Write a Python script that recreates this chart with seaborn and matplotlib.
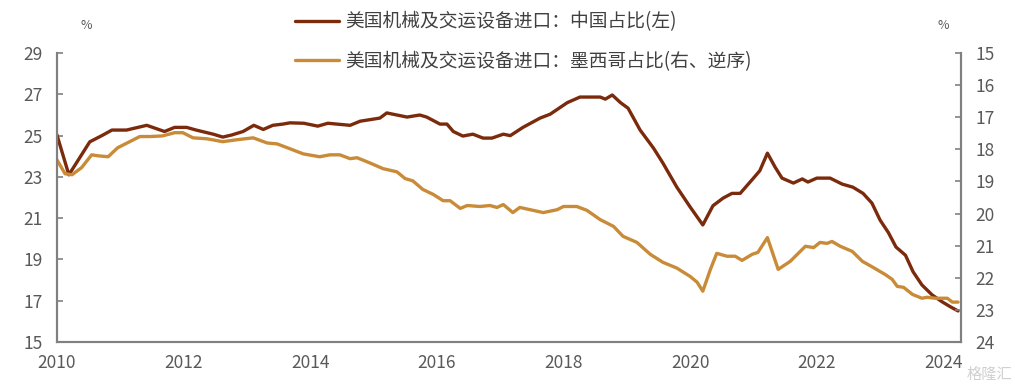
import matplotlib
matplotlib.use('Agg')
import matplotlib.pyplot as plt
import seaborn as sns
import pandas as pd
import numpy as np

# US machinery & transport equipment imports: share from China (left) and Mexico (right, inverted)
china_year = [2010.00, 2010.19, 2010.52, 2010.71, 2010.87, 2011.10, 2011.42, 2011.70, 2011.86,
              2012.05, 2012.20, 2012.47, 2012.62, 2012.76, 2012.94, 2013.11, 2013.26, 2013.41,
              2013.57, 2013.68, 2013.90, 2014.12, 2014.28, 2014.63, 2014.79, 2015.10, 2015.21,
              2015.53, 2015.73, 2015.84, 2016.05, 2016.16, 2016.26, 2016.41, 2016.57, 2016.73,
              2016.87, 2017.05, 2017.16, 2017.36, 2017.63, 2017.79, 2018.06, 2018.26, 2018.58,
              2018.66, 2018.77, 2018.90, 2019.02, 2019.21, 2019.42, 2019.57, 2019.79, 2020.00,
              2020.20, 2020.36, 2020.52, 2020.66, 2020.79, 2021.00, 2021.10, 2021.22, 2021.34,
              2021.45, 2021.63, 2021.77, 2021.86, 2022.00, 2022.21, 2022.40, 2022.57, 2022.73,
              2022.87, 2023.00, 2023.13, 2023.25, 2023.40, 2023.52, 2023.66, 2023.82, 2023.98,
              2024.11, 2024.23]
china_share = [25.05, 23.1, 24.7, 25.0, 25.27, 25.27, 25.5, 25.2, 25.4,
               25.4, 25.27, 25.07, 24.93, 25.03, 25.2, 25.5, 25.3, 25.5,
               25.56, 25.62, 25.6, 25.46, 25.6, 25.5, 25.7, 25.85, 26.1,
               25.9, 26.0, 25.9, 25.56, 25.56, 25.2, 24.98, 25.07, 24.88,
               24.88, 25.07, 25.0, 25.4, 25.85, 26.04, 26.6, 26.87, 26.87,
               26.77, 26.97, 26.6, 26.33, 25.27, 24.4, 23.67, 22.5, 21.54,
               20.67, 21.6, 21.97, 22.2, 22.2, 22.94, 23.3, 24.15, 23.48,
               22.94, 22.7, 22.9, 22.75, 22.94, 22.94, 22.65, 22.5, 22.2,
               21.73, 20.9, 20.3, 19.6, 19.2, 18.4, 17.76, 17.28, 16.94,
               16.7, 16.5]

mexico_year = [2010.00, 2010.13, 2010.24, 2010.39, 2010.55, 2010.65, 2010.81, 2010.96, 2011.15,
               2011.31, 2011.47, 2011.67, 2011.86, 2011.99, 2012.15, 2012.37, 2012.62, 2012.84,
               2013.10, 2013.32, 2013.48, 2013.68, 2013.89, 2014.15, 2014.31, 2014.47, 2014.63,
               2014.74, 2014.94, 2015.15, 2015.37, 2015.50, 2015.62, 2015.78, 2015.94, 2016.10,
               2016.21, 2016.37, 2016.48, 2016.68, 2016.84, 2016.95, 2017.05, 2017.20, 2017.31,
               2017.52, 2017.68, 2017.90, 2018.00, 2018.21, 2018.37, 2018.58, 2018.79, 2018.94,
               2019.16, 2019.37, 2019.57, 2019.79, 2020.00, 2020.11, 2020.20, 2020.32, 2020.42,
               2020.58, 2020.71, 2020.82, 2020.98, 2021.07, 2021.22, 2021.39, 2021.58, 2021.82,
               2021.95, 2022.05, 2022.16, 2022.24, 2022.37, 2022.56, 2022.72, 2022.89, 2023.08,
               2023.19, 2023.27, 2023.37, 2023.51, 2023.66, 2023.74, 2023.87, 2024.06, 2024.14,
               2024.23]
mexico_share = [18.32, 18.76, 18.79, 18.57, 18.17, 18.2, 18.23, 17.95, 17.76,
                17.6, 17.6, 17.58, 17.48, 17.48, 17.64, 17.67, 17.76, 17.7,
                17.64, 17.8, 17.83, 17.98, 18.14, 18.23, 18.17, 18.17, 18.29,
                18.26, 18.42, 18.6, 18.7, 18.91, 18.98, 19.25, 19.4, 19.6,
                19.6, 19.84, 19.75, 19.78, 19.75, 19.81, 19.72, 19.97, 19.81,
                19.9, 19.97, 19.88, 19.78, 19.78, 19.9, 20.19, 20.4, 20.71,
                20.9, 21.27, 21.52, 21.7, 21.96, 22.14, 22.42, 21.74, 21.24,
                21.33, 21.33, 21.46, 21.27, 21.21, 20.75, 21.74, 21.49, 21.02,
                21.06, 20.9, 20.93, 20.87, 21.02, 21.18, 21.49, 21.68, 21.9,
                22.05, 22.27, 22.3, 22.52, 22.64, 22.61, 22.64, 22.64, 22.76,
                22.76]

label_china = '美国机械及交运设备进口：中国占比(左)'
label_mexico = '美国机械及交运设备进口：墨西哥占比(右、逆序)'
left_ticks = [15, 17, 19, 21, 23, 25, 27, 29]
right_ticks = list(range(15, 25))
year_ticks = [2010, 2012, 2014, 2016, 2018, 2020, 2022, 2024]

COLOR_CN, COLOR_MX = '#7b2a0c', '#c98b38'
AXIS_C, TEXT_C = '#808080', '#595959'

sns.set_style('white')
plt.rcParams['font.family'] = ['Noto Sans CJK SC', 'DejaVu Sans']

df_cn = pd.DataFrame({'year': china_year, 'share': china_share})
df_mx = pd.DataFrame({'year': mexico_year, 'share': mexico_share})

fig = plt.figure(figsize=(10.15, 3.85), dpi=100)
ax = fig.add_axes([0.056, 0.112, 0.891, 0.750])
ax2 = ax.twinx()

sns.lineplot(data=df_cn, x='year', y='share', ax=ax, color=COLOR_CN, lw=2.4, label=label_china, legend=False)
sns.lineplot(data=df_mx, x='year', y='share', ax=ax2, color=COLOR_MX, lw=2.4, label=label_mexico, legend=False)

ax.set_xlim(2010, 2024.28)
ax.set_ylim(15, 29)
ax.set_yticks(left_ticks)
ax.set_xticks(year_ticks)
ax2.set_ylim(24, 15)
ax2.set_yticks(right_ticks)
for a in (ax, ax2):
    a.set_xlabel('')
    a.set_ylabel('')
    a.spines['top'].set_visible(False)
    for s in ('left', 'right', 'bottom'):
        a.spines[s].set_color(AXIS_C)
        a.spines[s].set_linewidth(1.5)
    a.tick_params(direction='in', length=4, width=1.2, color=AXIS_C,
                  labelsize=12.5, labelcolor=TEXT_C, pad=10)
ax.tick_params(axis='x', pad=9)

fig.text(0.085, 0.935, '%', fontsize=9, color=TEXT_C, ha='center', va='center')
fig.text(0.929, 0.935, '%', fontsize=9, color=TEXT_C, ha='center', va='center')

h1, l1 = ax.get_legend_handles_labels()
h2, l2 = ax2.get_legend_handles_labels()
fig.legend(h1 + h2, l1 + l2, loc='upper left', bbox_to_anchor=(0.280, 1.0),
           frameon=False, fontsize=13.5, labelcolor='#404040', handlelength=2.3,
           handletextpad=0.35, labelspacing=1.0, borderpad=0.1)

fig.text(0.997, 0.005, '格隆汇', fontsize=11, color='#d0d0d0', ha='right', va='bottom')

fig.savefig('out.png', dpi=100)
